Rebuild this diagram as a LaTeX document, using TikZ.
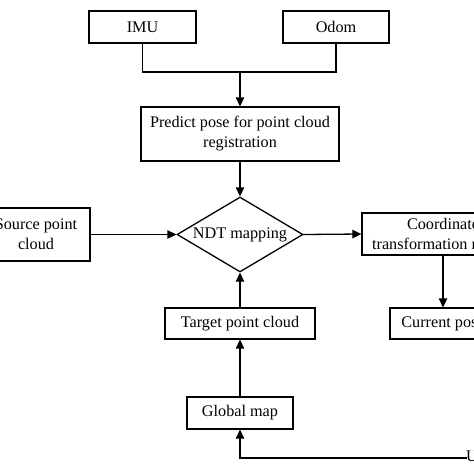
\documentclass[tikz,border=0pt]{standalone}
\usepackage{fontspec}
\setmainfont{Liberation Serif}
\usepackage{tikz}
\usetikzlibrary{arrows.meta,shapes.geometric,positioning}

\begin{document}
\begin{tikzpicture}[x=1pt, y=-1pt,
        line cap=rect, line join=miter,
        every node/.style={font=\fontsize{16.2}{20}\selectfont},
        box/.style={draw, line width=1.3pt, inner sep=0pt, align=center},
        decision/.style={draw, diamond, line width=1.3pt, inner sep=0pt, aspect=1.68,
            minimum width=126pt, minimum height=75pt},
        link/.style={line width=1.3pt},
        flow/.style={line width=1.3pt, -{Triangle[length=9pt,width=8.5pt]}}]
        \clip (0,0) rectangle (474,474);

        % INPUT BOXES
        \node[box, minimum width=107pt, minimum height=32pt] (imu) at (142.5,27) {IMU};
        \node[box, minimum width=106pt, minimum height=32pt] (odom) at (336,27) {Odom};
        \node[box, minimum width=198pt, minimum height=54pt] (pred) at (240,134)
            {Predict pose for point cloud\\registration};
        \node[decision] (ndt) at (240,234.5) {NDT mapping};
        \node[box, minimum width=108pt, minimum height=53pt] (src) at (36,234.5)
            {Source point\\cloud};
        \node[box, minimum width=162pt, minimum height=42pt] (coord) at (443,234)
            {Coordinate\\transformation matrix};
        \node[box, minimum width=106pt, minimum height=31pt] (cur) at (443,323.5) {Current pose};
        \node[box, minimum width=150pt, minimum height=31pt] (tgt) at (240,323.5) {Target point cloud};
        \node[box, minimum width=106pt, minimum height=32pt] (glob) at (240,413) {Global map};
        \node[anchor=west, inner sep=0pt] (upd) at (466,458) {Update};
        \coordinate (join) at (240,72);

        % CONNECTORS
        \draw[link] (imu.south) |- (join) -| (odom.south);
        \draw[flow] (join) -- (pred.north);
        \draw[flow] (pred.south) -- (ndt.north);
        \draw[flow] (src.east) -- (ndt.west);
        \draw[flow] (ndt.east) -- (coord.west);
        \draw[flow] (coord.south) -- (cur.north);
        \draw[flow] (tgt.north) -- (ndt.south);
        \draw[flow] (glob.north) -- (tgt.south);
        \draw[flow] (upd.west) -| (glob.south);
\end{tikzpicture}
\end{document}
